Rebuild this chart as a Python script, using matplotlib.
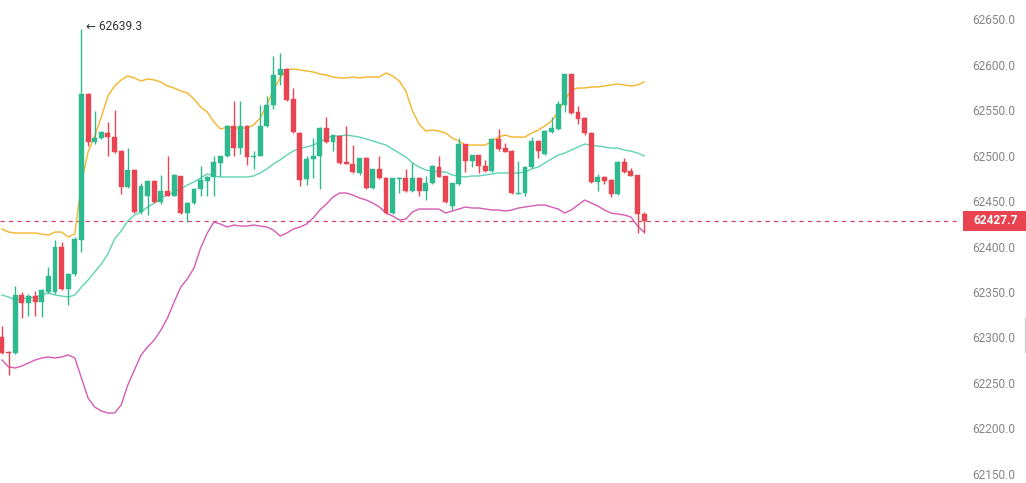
import matplotlib
matplotlib.use("Agg")
import matplotlib.pyplot as plt
from matplotlib.patches import Rectangle
import numpy as np

# ---------------- data ----------------
opens = [62300, 62284, 62283, 62347, 62338, 62346, 62339, 62350, 62350, 62400,
         62353, 62370, 62407, 62568, 62515, 62519, 62525, 62520, 62505, 62465,
         62484, 62438, 62455, 62472, 62449, 62461, 62456, 62477, 62437, 62448,
         62463, 62472, 62476, 62492, 62499, 62532, 62508, 62532, 62498, 62500,
         62532, 62555, 62588, 62595, 62562, 62525, 62474, 62496, 62499, 62530,
         62515, 62521.5, 62493, 62491, 62481, 62497, 62464, 62485, 62475, 62436.5,
         62474, 62475, 62461, 62475, 62461, 62469.5, 62487, 62477, 62445, 62469,
         62512.6, 62494, 62500.5, 62489, 62483, 62518, 62508.5, 62505, 62458, 62458.5,
         62487, 62516, 62502, 62526, 62529, 62556, 62589.6, 62548, 62541, 62525,
         62471, 62476, 62473, 62458, 62493, 62483, 62478.5, 62435.6]
highs = [62313, 62285, 62357, 62350, 62348, 62351, 62353, 62377, 62407, 62405,
         62371, 62410, 62639.3, 62569, 62549, 62527, 62537, 62550, 62506, 62508,
         62485, 62470, 62473, 62473, 62479, 62500, 62480, 62478, 62449, 62464,
         62489, 62477, 62499, 62500, 62533, 62560, 62560, 62533, 62505, 62555,
         62565, 62609, 62613, 62596, 62574.5, 62526, 62499, 62519, 62531, 62542,
         62523, 62522, 62532.5, 62511.5, 62497.5, 62498, 62485.5, 62500, 62476, 62475.5,
         62476, 62485, 62492, 62476, 62477.5, 62489.5, 62500, 62478, 62470, 62519,
         62513, 62501, 62501, 62495, 62519, 62529, 62513.5, 62506, 62494, 62488,
         62520, 62517, 62528, 62542, 62560, 62590, 62590, 62554.7, 62542, 62526,
         62479.7, 62477, 62474, 62494, 62497.6, 62486.6, 62479, 62438]
lows = [62282, 62259, 62282, 62321, 62324, 62324, 62322, 62349, 62348, 62352,
        62336, 62368, 62394, 62510, 62513, 62518, 62500, 62503, 62458, 62464,
        62437, 62436, 62435, 62448, 62447, 62455, 62455, 62436, 62427, 62447,
        62455, 62455, 62456, 62477, 62498, 62500, 62502, 62490, 62485, 62499,
        62531, 62551, 62577, 62560, 62525, 62466.5, 62467.5, 62475, 62463, 62514,
        62505, 62491, 62490.5, 62481, 62478.5, 62463, 62463, 62474, 62436, 62436,
        62458.5, 62460, 62460, 62456, 62451, 62469, 62476, 62448, 62440, 62468,
        62482, 62487.7, 62481, 62482, 62482, 62505, 62503.5, 62458, 62457.5, 62455.5,
        62486, 62497, 62501, 62525, 62528, 62548, 62546, 62534.6, 62523, 62470,
        62461, 62468.7, 62454.7, 62457, 62481, 62477, 62414.5, 62414.5]
closes = [62283, 62283, 62347, 62338, 62346, 62339, 62352, 62368, 62400, 62353,
          62370, 62408, 62568, 62515, 62519, 62525.5, 62520, 62504, 62465, 62484,
          62438, 62467, 62472, 62449, 62461, 62456, 62479, 62437, 62448, 62463,
          62473, 62476, 62492.5, 62499.5, 62532, 62508, 62532, 62498, 62500, 62532,
          62555, 62588.5, 62595, 62561, 62525.5, 62473, 62496, 62499.5, 62530, 62515,
          62522.5, 62491.4, 62491, 62482, 62497, 62464, 62485, 62475, 62436.5, 62475,
          62475, 62461, 62475, 62461, 62469.5, 62488, 62476.7, 62449, 62469.5, 62512.6,
          62494.3, 62500.5, 62488.5, 62483, 62518, 62507, 62504, 62458.5, 62459, 62487,
          62516, 62505.3, 62527, 62530, 62556.6, 62589.6, 62547, 62540, 62524.4, 62471,
          62476.7, 62472, 62457.7, 62493, 62482, 62478, 62435.4, 62427.7]

bb_upper = [62419.2, 62415.9, 62414.8, 62414.8, 62414.8, 62414.8, 62413.7, 62412.6, 62415.9, 62415.9,
            62410.4, 62413.7, 62469.8, 62503.8, 62521.4, 62542.3, 62565.4, 62576.4, 62583.0, 62587.4,
            62585.2, 62581.9, 62584.1, 62583.0, 62580.8, 62576.4, 62574.2, 62570.9, 62568.7, 62562.1,
            62553.3, 62547.8, 62536.8, 62529.1, 62531.3, 62530.2, 62530.2, 62530.2, 62533.5, 62541.2,
            62555.5, 62572.0, 62585.2, 62594.0, 62595.1, 62594.0, 62592.9, 62591.8, 62589.6, 62588.5,
            62586.3, 62585.2, 62585.2, 62586.3, 62585.2, 62586.3, 62586.3, 62586.3, 62590.7, 62587.4,
            62581.9, 62570.9, 62548.9, 62534.6, 62526.9, 62528.0, 62526.9, 62524.7, 62519.2, 62515.9,
            62511.5, 62511.5, 62511.5, 62511.5, 62515.9, 62520.3, 62522.5, 62520.3, 62520.3, 62520.3,
            62524.7, 62528.0, 62532.4, 62537.9, 62547.8, 62561.0, 62572.0, 62574.2, 62574.2, 62575.3,
            62575.3, 62576.4, 62577.5, 62578.6, 62577.5, 62576.4, 62577.5, 62580.8]
bb_middle = [62346.7, 62344.5, 62341.2, 62342.3, 62343.4, 62344.5, 62346.7, 62348.9, 62346.7, 62345.6,
             62344.5, 62346.7, 62355.5, 62363.2, 62372.0, 62380.8, 62391.8, 62408.2, 62417.0, 62428.0,
             62434.6, 62437.9, 62443.4, 62447.8, 62453.3, 62456.6, 62459.9, 62463.2, 62467.6, 62470.9,
             62475.3, 62479.7, 62477.5, 62476.4, 62476.4, 62476.4, 62476.4, 62476.4, 62477.5, 62480.8,
             62485.2, 62490.7, 62495.1, 62500.5, 62504.9, 62508.2, 62509.3, 62511.5, 62514.8, 62519.2,
             62521.4, 62521.4, 62522.5, 62521.4, 62520.3, 62518.1, 62515.9, 62513.7, 62511.5, 62507.1,
             62502.7, 62498.4, 62491.8, 62487.4, 62484.1, 62483.0, 62481.9, 62481.9, 62478.6, 62477.5,
             62476.4, 62477.5, 62477.5, 62478.6, 62479.7, 62480.8, 62480.8, 62480.8, 62480.8, 62481.9,
             62485.2, 62487.4, 62491.8, 62496.2, 62500.5, 62502.7, 62506.0, 62509.3, 62512.6, 62511.5,
             62510.4, 62509.3, 62508.2, 62508.2, 62506.0, 62504.9, 62502.7, 62499.5]
bb_lower = [62275.3, 62267.6, 62266.5, 62268.7, 62272.0, 62275.3, 62277.5, 62278.6, 62277.5, 62278.6,
            62280.8, 62277.5, 62255.5, 62233.5, 62223.6, 62219.2, 62217.0, 62217.0, 62225.8, 62247.8,
            62264.3, 62280.8, 62289.6, 62297.3, 62308.2, 62321.4, 62339.0, 62355.5, 62364.3, 62376.4,
            62398.4, 62414.8, 62426.9, 62424.7, 62421.4, 62423.6, 62422.5, 62422.5, 62423.6, 62422.5,
            62421.4, 62418.1, 62411.5, 62414.8, 62419.2, 62421.4, 62424.7, 62431.3, 62440.1, 62446.7,
            62454.4, 62458.8, 62458.8, 62456.6, 62453.3, 62451.1, 62447.8, 62443.4, 62436.8, 62433.5,
            62429.1, 62430.2, 62437.9, 62441.2, 62441.2, 62441.2, 62441.2, 62436.8, 62439.0, 62441.2,
            62443.4, 62442.3, 62442.3, 62441.2, 62440.1, 62440.1, 62439.0, 62440.1, 62442.3, 62443.4,
            62444.5, 62445.6, 62445.6, 62443.4, 62441.2, 62436.8, 62440.1, 62445.6, 62451.1, 62447.8,
            62444.5, 62440.1, 62436.8, 62435.7, 62434.6, 62432.4, 62422.5, 62415.9]

y_ticks = [62150, 62200, 62250, 62300, 62350, 62400, 62450, 62500, 62550, 62600, 62650]
last_price = 62427.7
max_label = "\u2190 62639.3"
max_index = 12
max_price = 62639.3

# ---------------- style ----------------
GREEN = "#2fb98e"
RED = "#e84451"
C_UP = "#f3b52a"
C_MID = "#5fd3b3"
C_LOW = "#d65bb6"

plt.rcParams["font.family"] = ["Roboto", "DejaVu Sans"]

fig = plt.figure(figsize=(10.26, 4.83), dpi=100)
ax = fig.add_axes([0, 0, 958 / 1026, 1])
ax.set_facecolor("white")

n = len(opens)
idx = np.arange(n)
w = 0.74
for i in idx:
    o, h, l, c = opens[i], highs[i], lows[i], closes[i]
    col = GREEN if c >= o else RED
    ax.vlines(i, l, h, color=col, linewidth=1.0, zorder=3)
    lo, hi = min(o, c), max(o, c)
    ax.add_patch(Rectangle((i - w / 2, lo), w, max(hi - lo, 0.9),
                           facecolor=col, edgecolor=col, linewidth=0.3, zorder=4))

ax.plot(idx, bb_upper, color=C_UP, linewidth=1.0, zorder=2)
ax.plot(idx, bb_middle, color=C_MID, linewidth=1.0, zorder=2)
ax.plot(idx, bb_lower, color=C_LOW, linewidth=1.0, zorder=2)

ax.axhline(last_price, color="#d4436a", linewidth=0.9, dashes=(3.4, 3.4), zorder=1)

ax.annotate(max_label, xy=(max_index, max_price), xytext=(3.5, 1.5),
            textcoords="offset points", ha="left", va="center",
            fontsize=8.6, color="#333333")

ax.set_xlim(-0.302, 144.4)
ax.set_ylim(62140.1, 62670.9)
for s in ax.spines.values():
    s.set_visible(False)
ax.set_xticks([])
ax.yaxis.tick_right()
ax.set_yticks(y_ticks)
ax.set_yticklabels([f"{v:.1f}" for v in y_ticks])
ax.tick_params(axis="y", length=0, pad=10.5, labelsize=8.6, labelcolor="#858585")

# last price label box
fig.patches.append(Rectangle((963 / 1026, 1 - 231 / 483), 63 / 1026, 20 / 483,
                             transform=fig.transFigure, facecolor="#e8434f",
                             edgecolor="none", zorder=5))
fig.text(973 / 1026, 1 - 221 / 483, f"{last_price:.1f}", color="white",
         fontsize=8.6, fontweight="bold", ha="left", va="center", zorder=6)

# small scroll marker at right edge
fig.add_artist(plt.Line2D([1024.5 / 1026, 1024.5 / 1026], [1 - 318 / 483, 1 - 352 / 483],
                          transform=fig.transFigure, color="#cfcfcf", linewidth=1.0))

fig.savefig("out.png", dpi=100, facecolor="white")
